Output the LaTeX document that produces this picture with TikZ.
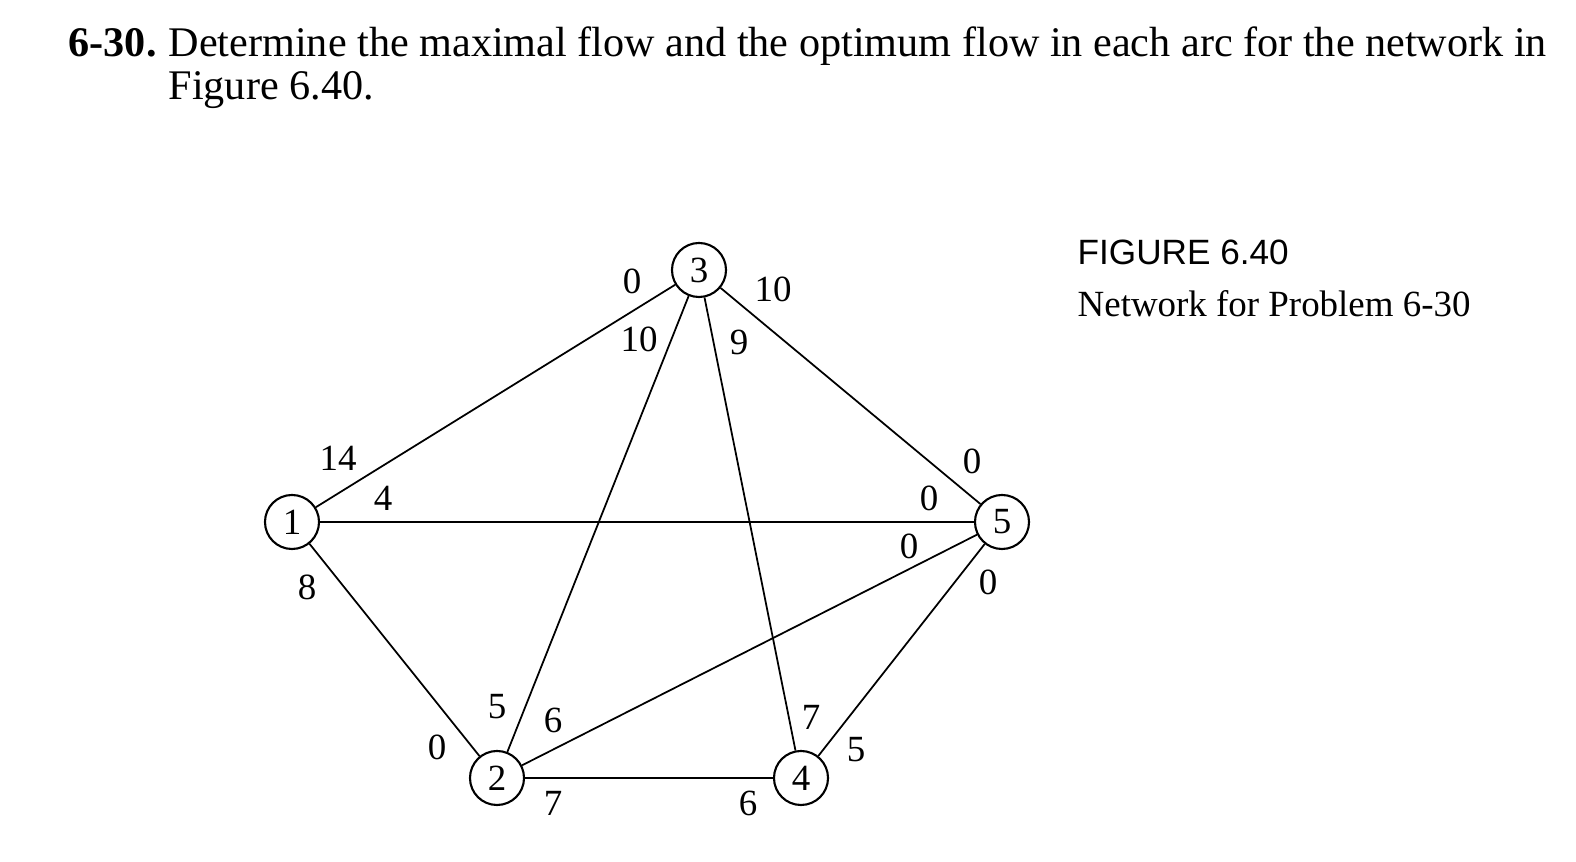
\documentclass[tikz,border=0pt]{standalone}
\usepackage{fontspec}
\setmainfont{Liberation Serif}
\newfontfamily\figsans{Liberation Sans}
\begin{document}
\begin{tikzpicture}[x=0.01cm,y=-0.01cm,
  vtx/.style={circle,draw,line width=0.6pt,minimum size=0.54cm,inner sep=0pt,font=\fontsize{10.5}{12}\selectfont},
  lbl/.style={font=\fontsize{10.5}{12}\selectfont,inner sep=0pt},
  edge/.style={line width=0.5pt}]
\useasboundingbox (0,0) rectangle (1576,862);
\node[anchor=base west,inner sep=0pt,font=\fontsize{12}{14}\selectfont\bfseries] (pn) at (68,57) {6-30.};
\node[anchor=base west,inner sep=0pt,font=\fontsize{12}{14}\selectfont] (t1) at (168,57) {Determine the maximal flow and the optimum flow in each arc for the network in};
\node[anchor=base west,inner sep=0pt,font=\fontsize{12}{14}\selectfont] (t2) at (168,100) {Figure 6.40.};
\node[anchor=west,inner sep=0pt,font=\figsans\fontsize{10}{12}\selectfont] (fg) at (1077,252) {FIGURE 6.40};
\node[anchor=west,inner sep=0pt,font=\fontsize{10.5}{12}\selectfont] (cap) at (1077,304) {Network for Problem 6-30};
\node[vtx] (n1) at (292,522) {1};
\node[vtx] (n2) at (497,778) {2};
\node[vtx] (n3) at (699,270) {3};
\node[vtx] (n4) at (801,778) {4};
\node[vtx] (n5) at (1002,522) {5};
\foreach \a/\b in {n1/n3,n1/n5,n1/n2,n2/n3,n2/n5,n2/n4,n3/n4,n3/n5,n4/n5}
  \draw[edge] (\a) -- (\b);
\node[lbl] (l1) at (338,458) {14};
\node[lbl] (l2) at (383,498) {4};
\node[lbl] (l3) at (307,587) {8};
\node[lbl] (l4) at (437,747) {0};
\node[lbl] (l5) at (497,707) {5};
\node[lbl] (l6) at (553,720) {6};
\node[lbl] (l7) at (553,803) {7};
\node[lbl] (l8) at (632,281) {0};
\node[lbl] (l9) at (639,339) {10};
\node[lbl] (l10) at (773,289) {10};
\node[lbl] (l11) at (739,342) {9};
\node[lbl] (l12) at (811,717) {7};
\node[lbl] (l13) at (856,750) {5};
\node[lbl] (l14) at (748,803) {6};
\node[lbl] (l15) at (972,461) {0};
\node[lbl] (l16) at (929,498) {0};
\node[lbl] (l17) at (909,546) {0};
\node[lbl] (l18) at (988,582) {0};
\end{tikzpicture}
\end{document}
